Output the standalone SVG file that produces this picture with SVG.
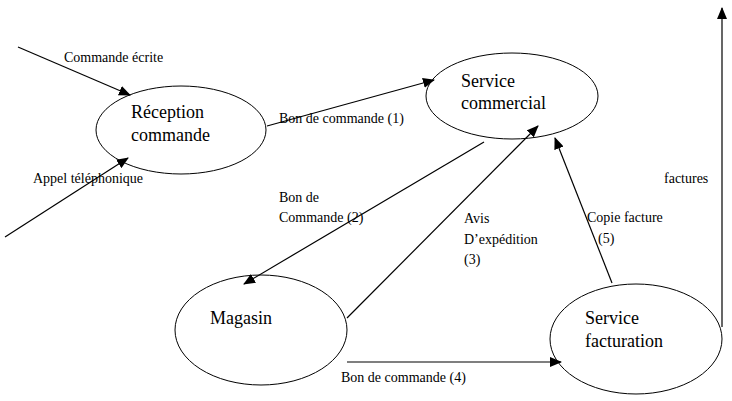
<svg xmlns="http://www.w3.org/2000/svg" width="732" height="401" viewBox="0 0 732 401">
<style>
.n{fill:#fff;stroke:#000;stroke-width:1}
.c line{stroke:#000;stroke-width:1.2;fill:none;marker-end:url(#a)}
text{font-family:'Liberation Serif','DejaVu Serif','Times New Roman',serif;fill:#000}
.t{font-size:18px}
.l{font-size:14px}
</style>
<defs><marker id="a" markerWidth="12" markerHeight="10" refX="11" refY="5" orient="auto" markerUnits="userSpaceOnUse"><path d="M0,0 L12,5 L0,10 z" fill="#000"/></marker></defs>
<rect width="732" height="401" fill="#fff"/>
<g id="reception"><ellipse class="n" cx="181" cy="130" rx="85" ry="44"/><text class="t" x="131" y="118">Réception</text><text class="t" x="131" y="141">commande</text></g>
<g id="commercial"><ellipse class="n" cx="512" cy="96" rx="86" ry="43"/><text class="t" x="461" y="87">Service</text><text class="t" x="461" y="109">commercial</text></g>
<g id="magasin"><ellipse class="n" cx="261" cy="330" rx="86" ry="55"/><text class="t" x="210" y="324">Magasin</text></g>
<g id="facturation"><ellipse class="n" cx="636" cy="339" rx="86" ry="55"/><text class="t" x="585" y="324">Service</text><text class="t" x="585" y="347">facturation</text></g>
<g class="c">
<line x1="18" y1="47" x2="130" y2="95"/>
<line x1="5" y1="237" x2="128" y2="158"/>
<line x1="267" y1="126" x2="434" y2="80"/>
<line x1="484" y1="142" x2="244" y2="284"/>
<line x1="347" y1="318" x2="538" y2="126"/>
<line x1="612" y1="283" x2="555" y2="138"/>
<line x1="347" y1="362" x2="561" y2="362"/>
<line x1="722" y1="327" x2="722" y2="8"/>
</g>
<g id="labels">
<text class="l" x="64" y="62">Commande écrite</text>
<text class="l" x="33" y="183">Appel téléphonique</text>
<text class="l" x="279" y="123">Bon de commande (1)</text>
<text class="l" x="279" y="202">Bon de</text>
<text class="l" x="279" y="222">Commande (2)</text>
<text class="l" x="464" y="223">Avis</text>
<text class="l" x="464" y="244">D’expédition</text>
<text class="l" x="464" y="264">(3)</text>
<text class="l" x="587" y="222">Copie facture</text>
<text class="l" x="598" y="243">(5)</text>
<text class="l" x="341" y="382">Bon de commande (4)</text>
<text class="l" x="664" y="183">factures</text>
</g>
</svg>
